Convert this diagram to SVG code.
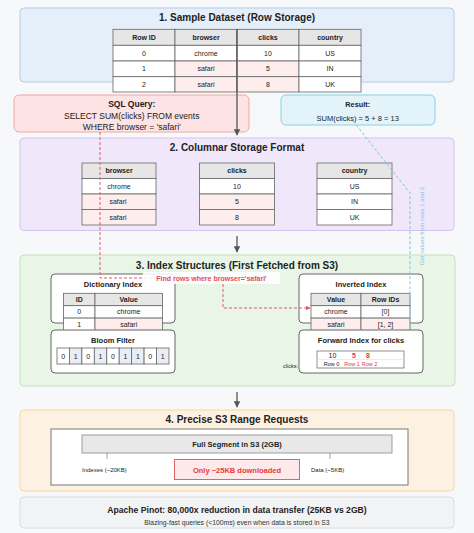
<svg xmlns="http://www.w3.org/2000/svg" width="474" height="533" viewBox="0 0 474 533">
<defs>
<style>
text{font-family:"Liberation Sans",Arial,sans-serif;fill:#222;text-anchor:middle}
.t{font-size:10px;font-weight:bold}
.h{font-size:7px;font-weight:bold}
.c{font-size:7px}
.st{font-size:7.5px;font-weight:bold}
.cell{fill:#fff;stroke:#666;stroke-width:0.8}
.hd{fill:#e6e6e6;stroke:#666;stroke-width:0.8}
.pk{fill:#fdeded;stroke:#666;stroke-width:0.8}
.box{fill:#fff;stroke:#666;stroke-width:1}
.red{fill:#e03b3b}
</style>
<marker id="ag" viewBox="0 0 10 10" refX="9" refY="5" markerWidth="5" markerHeight="5" orient="auto"><path d="M0,0 L10,5 L0,10 z" fill="#555"/></marker>
<marker id="ar" viewBox="0 0 10 10" refX="9" refY="5" markerWidth="5" markerHeight="5" orient="auto"><path d="M0,0 L10,5 L0,10 z" fill="#e05a6a"/></marker>
</defs>
<rect x="0" y="0" width="474" height="533" fill="#f7f8f9"/>

<g id="section1">
<rect x="20" y="8" width="434" height="74" rx="4" fill="#e5eff9" stroke="#b3cee9" stroke-width="1"/>
<text class="t" x="237" y="21">1. Sample Dataset (Row Storage)</text>
<g id="rowtable">
<rect class="hd" x="113" y="29.3" width="62" height="16"/><rect class="hd" x="175" y="29.3" width="62" height="16"/><rect class="hd" x="237" y="29.3" width="62" height="16"/><rect class="hd" x="299" y="29.3" width="62" height="16"/>
<rect class="cell" x="113" y="45.3" width="62" height="15.7"/><rect class="cell" x="175" y="45.3" width="62" height="15.7"/><rect class="cell" x="237" y="45.3" width="62" height="15.7"/><rect class="cell" x="299" y="45.3" width="62" height="15.7"/>
<rect class="cell" x="113" y="61" width="62" height="15.7"/><rect class="pk" x="175" y="61" width="62" height="15.7"/><rect class="pk" x="237" y="61" width="62" height="15.7"/><rect class="cell" x="299" y="61" width="62" height="15.7"/>
<rect class="cell" x="113" y="76.7" width="62" height="15.3"/><rect class="pk" x="175" y="76.7" width="62" height="15.3"/><rect class="pk" x="237" y="76.7" width="62" height="15.3"/><rect class="cell" x="299" y="76.7" width="62" height="15.3"/>
<text class="h" x="144" y="39.8">Row ID</text><text class="h" x="206" y="39.8">browser</text><text class="h" x="268" y="39.8">clicks</text><text class="h" x="330" y="39.8">country</text>
<text class="c" x="144" y="55.7">0</text><text class="c" x="206" y="55.7">chrome</text><text class="c" x="268" y="55.7">10</text><text class="c" x="330" y="55.7">US</text>
<text class="c" x="144" y="71.4">1</text><text class="c" x="206" y="71.4">safari</text><text class="c" x="268" y="71.4">5</text><text class="c" x="330" y="71.4">IN</text>
<text class="c" x="144" y="86.9">2</text><text class="c" x="206" y="86.9">safari</text><text class="c" x="268" y="86.9">8</text><text class="c" x="330" y="86.9">UK</text>
</g>
</g>

<g id="sql">
<rect x="14" y="95" width="235" height="37" rx="5" fill="#fde3e3" stroke="#f2a6a6" stroke-width="1"/>
<text x="131.7" y="107" style="font-size:8.5px;font-weight:bold">SQL Query:</text>
<text x="131.7" y="118.5" style="font-size:8.5px">SELECT SUM(clicks) FROM events</text>
<text x="131.7" y="130" style="font-size:8.5px">WHERE browser = 'safari'</text>
</g>

<g id="result">
<rect x="281" y="95" width="154" height="30" rx="5" fill="#e2f4fa" stroke="#86d0ea" stroke-width="1"/>
<text x="357.7" y="106.5" style="font-size:7.3px;font-weight:bold">Result:</text>
<text x="357.7" y="120.5" style="font-size:7.5px">SUM(clicks) = 5 + 8 = 13</text>
</g>

<g id="section2">
<rect x="20" y="138" width="434" height="92.5" rx="4" fill="#f0e8fa" stroke="#d4c3ee" stroke-width="1"/>
<text class="t" x="237" y="151">2. Columnar Storage Format</text>
<rect class="hd" x="82" y="163" width="74" height="15.5"/><rect class="cell" x="82" y="178.5" width="74" height="15.5"/><rect class="pk" x="82" y="194" width="74" height="15.5"/><rect class="pk" x="82" y="209.5" width="74" height="15.5"/>
<rect class="hd" x="199.5" y="163" width="75" height="15.5"/><rect class="cell" x="199.5" y="178.5" width="75" height="15.5"/><rect class="pk" x="199.5" y="194" width="75" height="15.5"/><rect class="pk" x="199.5" y="209.5" width="75" height="15.5"/>
<rect class="hd" x="317" y="163" width="75" height="15.5"/><rect class="cell" x="317" y="178.5" width="75" height="15.5"/><rect class="cell" x="317" y="194" width="75" height="15.5"/><rect class="cell" x="317" y="209.5" width="75" height="15.5"/>
<text class="h" x="119" y="173">browser</text><text class="c" x="119" y="188.5">chrome</text><text class="c" x="118" y="204">safari</text><text class="c" x="118" y="219.5">safari</text>
<text class="h" x="237" y="173">clicks</text><text class="c" x="237" y="188.5">10</text><text class="c" x="237" y="204">5</text><text class="c" x="237" y="219.5">8</text>
<text class="h" x="354.5" y="173">country</text><text class="c" x="354.5" y="188.5">US</text><text class="c" x="354.5" y="204">IN</text><text class="c" x="354.5" y="219.5">UK</text>
</g>

<g id="section3">
<rect x="20" y="255" width="435" height="131" rx="4" fill="#e9f6e7" stroke="#bfe2b7" stroke-width="1"/>
<text class="t" x="237" y="268.5">3. Index Structures (First Fetched from S3)</text>
</g>

<g id="dictionary">
<rect class="box" x="51" y="274" width="124" height="49" rx="4"/>
<text class="st" x="113" y="287">Dictionary Index</text>
<rect class="hd" x="63.5" y="293.3" width="31.5" height="12.4"/><rect class="hd" x="95" y="293.3" width="67.5" height="12.4"/>
<rect class="cell" x="63.5" y="305.7" width="31.5" height="12.4"/><rect class="cell" x="95" y="305.7" width="67.5" height="12.4"/>
<rect class="cell" x="63.5" y="318.1" width="31.5" height="12.4"/><rect class="pk" x="95" y="318.1" width="67.5" height="12.4"/>
<text class="h" x="79.2" y="302">ID</text><text class="h" x="128.7" y="302">Value</text>
<text class="c" x="79.2" y="314.4">0</text><text class="c" x="128.7" y="314.4">chrome</text>
<text class="c" x="79.2" y="326.8">1</text><text class="c" x="128.7" y="326.8">safari</text>
</g>

<g id="bloom">
<rect class="box" x="51" y="330" width="124" height="43" rx="4"/>
<text class="st" x="113" y="342.5">Bloom Filter</text>
<g stroke="#666" stroke-width="0.8">
<rect x="57" y="348" width="12.44" height="16" fill="#fff"/><rect x="69.44" y="348" width="12.44" height="16" fill="#e9edf6"/><rect x="81.88" y="348" width="12.44" height="16" fill="#fff"/><rect x="94.32" y="348" width="12.44" height="16" fill="#e9edf6"/><rect x="106.76" y="348" width="12.44" height="16" fill="#fff"/><rect x="119.2" y="348" width="12.44" height="16" fill="#e9edf6"/><rect x="131.64" y="348" width="12.44" height="16" fill="#e9edf6"/><rect x="144.08" y="348" width="12.44" height="16" fill="#fff"/><rect x="156.52" y="348" width="12.44" height="16" fill="#e9edf6"/>
</g>
<text class="c" x="63.2" y="358.5">0</text><text class="c" x="75.7" y="358.5">1</text><text class="c" x="88.1" y="358.5">0</text><text class="c" x="100.5" y="358.5">1</text><text class="c" x="113" y="358.5">0</text><text class="c" x="125.4" y="358.5">1</text><text class="c" x="137.9" y="358.5">1</text><text class="c" x="150.3" y="358.5">0</text><text class="c" x="162.7" y="358.5">1</text>
</g>

<g id="inverted">
<rect class="box" x="299" y="274" width="124" height="49" rx="4"/>
<text class="st" x="361" y="287">Inverted Index</text>
<rect class="hd" x="311" y="293.3" width="50" height="12.4"/><rect class="hd" x="361" y="293.3" width="49" height="12.4"/>
<rect class="cell" x="311" y="305.7" width="50" height="12.4"/><rect class="cell" x="361" y="305.7" width="49" height="12.4"/>
<rect class="pk" x="311" y="318.1" width="50" height="12.4"/><rect class="pk" x="361" y="318.1" width="49" height="12.4"/>
<text class="h" x="336" y="302">Value</text><text class="h" x="385.5" y="302">Row IDs</text>
<text class="c" x="336" y="314.4">chrome</text><text class="c" x="385.5" y="314.4">[0]</text>
<text class="c" x="336" y="326.8">safari</text><text class="c" x="385.5" y="326.8">[1, 2]</text>
</g>

<g id="forward">
<rect class="box" x="299" y="330" width="124" height="43" rx="4"/>
<text class="st" x="361" y="342.5">Forward Index for clicks</text>
<rect x="317" y="351" width="87" height="17" fill="#fff" stroke="#777" stroke-width="0.8"/>
<line x1="317" y1="359.5" x2="404" y2="359.5" stroke="#ddd" stroke-width="0.6"/>
<text class="c" x="332.5" y="357.5">10</text><text class="c red" x="354" y="357.5" style="font-weight:bold">5</text><text class="c red" x="368" y="357.5" style="font-weight:bold">8</text>
<text x="331.5" y="366" style="font-size:5.5px">Row 0</text><text class="red" x="352" y="366" style="font-size:5.5px">Row 1</text><text class="red" x="369.5" y="366" style="font-size:5.5px">Row 2</text>
<text x="298" y="367.5" style="font-size:5.5px;text-anchor:end">clicks:</text>
</g>

<g id="section4">
<rect x="20" y="410" width="434" height="81" rx="4" fill="#fdf2e2" stroke="#f5d8a6" stroke-width="1"/>
<text class="t" x="237" y="423">4. Precise S3 Range Requests</text>
<rect x="51" y="429" width="357" height="56" fill="#fff" stroke="#777" stroke-width="1"/>
<rect x="82" y="435" width="310" height="18" fill="#e8e8e8" stroke="#888" stroke-width="0.8"/>
<text class="st" x="237" y="446.5">Full Segment in S3 (2GB)</text>
<line x1="107" y1="453" x2="107" y2="459" stroke="#888" stroke-width="0.8"/>
<line x1="330" y1="453" x2="330" y2="459" stroke="#888" stroke-width="0.8"/>
<text x="82" y="472" style="font-size:6px;text-anchor:start">Indexes (~20KB)</text>
<text x="311" y="472" style="font-size:6px;text-anchor:start">Data (~5KB)</text>
<rect x="174.5" y="459.5" width="125" height="20" fill="#fde9e9" stroke="#e06666" stroke-width="1"/>
<text class="red" x="237" y="472.5" style="font-size:7.5px;font-weight:bold">Only ~25KB downloaded</text>
</g>

<g id="summary">
<rect x="20" y="497" width="434" height="31" rx="4" fill="#f2f3f4" stroke="#dcdcdc" stroke-width="1"/>
<text x="237" y="513" style="font-size:8.6px;font-weight:bold">Apache Pinot: 80,000x reduction in data transfer (25KB vs 2GB)</text>
<text x="237" y="524.5" style="font-size:6.8px;fill:#333">Blazing-fast queries (&lt;100ms) even when data is stored in S3</text>
</g>

<g id="connectors">
<line x1="237" y1="29" x2="237" y2="135" stroke="#555" stroke-width="1.3" marker-end="url(#ag)"/>
<line x1="237" y1="236" x2="237" y2="252" stroke="#555" stroke-width="1.3" marker-end="url(#ag)"/>
<line x1="237" y1="392" x2="237" y2="407" stroke="#555" stroke-width="1.3" marker-end="url(#ag)"/>
<path d="M100,132 V278 H223 V308 H310" fill="none" stroke="#e05a6a" stroke-width="1" stroke-dasharray="3,2" marker-end="url(#ar)"/>
<rect x="143" y="272" width="137" height="12" fill="#fff" fill-opacity="0.85"/>
<text x="211.5" y="280.5" style="font-size:7px;font-weight:bold;fill:#e05060">Find rows where browser='safari'</text>
<path d="M353,121 L410,193 V330" fill="none" stroke="#7cc4e6" stroke-width="1" stroke-dasharray="3,2"/>
<text transform="translate(424,226) rotate(-90)" style="font-size:6px;fill:#7cc4e6">Get values from rows 1 and 2</text>
</g>
</svg>
